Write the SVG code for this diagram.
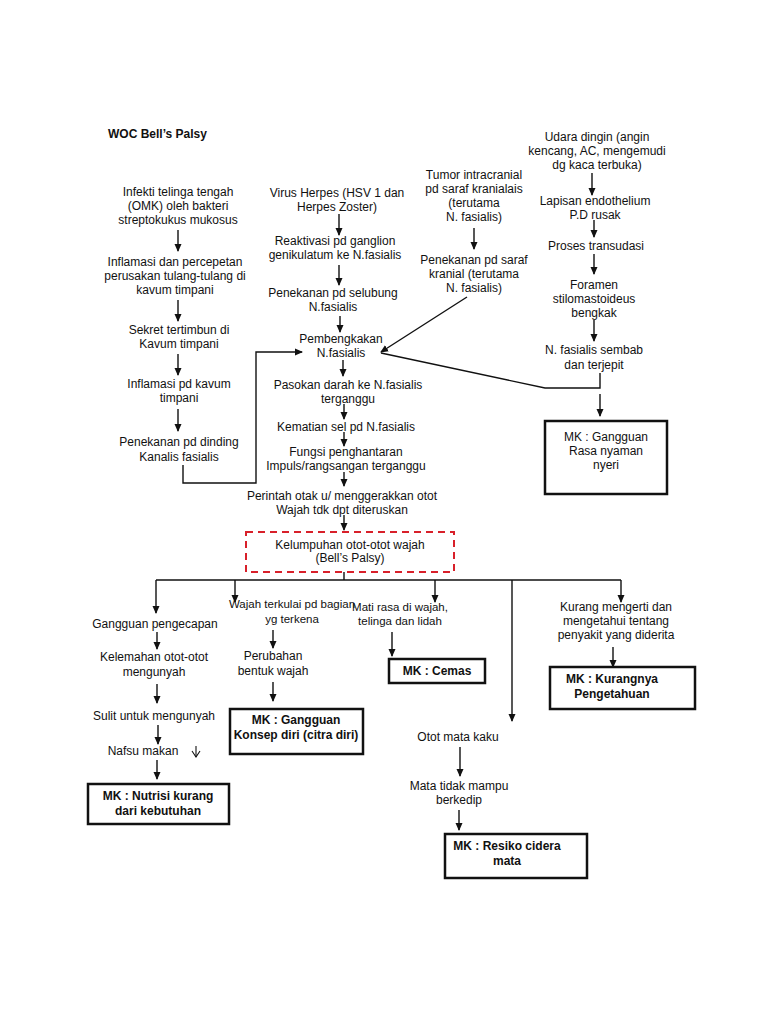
<svg xmlns="http://www.w3.org/2000/svg" width="768" height="1024" viewBox="0 0 768 1024">
<style>
text{font-family:"Liberation Sans",Arial,sans-serif;font-size:12px;fill:#111;text-anchor:middle}
.b{font-weight:bold}
.s{font-size:11.5px}
.c line,.c polyline{stroke:#111;stroke-width:1.4;fill:none}
.a{marker-end:url(#ah)}
.box{fill:#fff;stroke:#111;stroke-width:2.5}
</style>
<defs><marker id="ah" markerWidth="8" markerHeight="8" refX="7" refY="4" orient="auto" markerUnits="userSpaceOnUse"><path d="M0,0.5L8,4L0,7.5z" fill="#111"/></marker></defs>
<rect width="768" height="1024" fill="#fff"/>
<text x="108" y="138" class="b" style="text-anchor:start">WOC Bell’s Palsy</text>
<g id="connectors" class="c">
<line class="a" x1="178" y1="230" x2="178" y2="251"/>
<line class="a" x1="178" y1="300" x2="178" y2="321"/>
<line class="a" x1="178" y1="354" x2="178" y2="375"/>
<line class="a" x1="178" y1="409" x2="178" y2="431"/>
<polyline class="a" points="183,465 183,483 256,483 256,352 302,352"/>
<line class="a" x1="339" y1="214" x2="339" y2="235"/>
<line class="a" x1="339" y1="265" x2="339" y2="285"/>
<line class="a" x1="340" y1="316" x2="340" y2="332"/>
<line class="a" x1="343" y1="360" x2="343" y2="376"/>
<line class="a" x1="344" y1="404" x2="344" y2="419"/>
<line class="a" x1="344" y1="432" x2="344" y2="446"/>
<line class="a" x1="344" y1="472" x2="344" y2="486"/>
<line class="a" x1="344" y1="515" x2="344" y2="530"/>
<line class="a" x1="474" y1="228" x2="474" y2="249"/>
<line class="a" x1="467" y1="297" x2="381" y2="352"/>
<polyline points="600,373 600,388 545,388 381,353"/>
<line class="a" x1="592" y1="173" x2="592" y2="195"/>
<line class="a" x1="594" y1="220" x2="594" y2="237"/>
<line class="a" x1="594" y1="254" x2="594" y2="274"/>
<line class="a" x1="594" y1="320" x2="594" y2="341"/>
<line class="a" x1="600" y1="394" x2="600" y2="416"/>
<line x1="344" y1="572" x2="344" y2="580"/>
<line x1="156" y1="580" x2="621" y2="580"/>
<line class="a" x1="156" y1="580" x2="156" y2="613"/>
<line class="a" x1="235" y1="580" x2="235" y2="602"/>
<line class="a" x1="435" y1="580" x2="435" y2="602"/>
<line class="a" x1="512" y1="580" x2="512" y2="721"/>
<line class="a" x1="621" y1="580" x2="621" y2="602"/>
<line class="a" x1="157" y1="632" x2="157" y2="649"/>
<line class="a" x1="157" y1="684" x2="157" y2="703"/>
<line class="a" x1="158" y1="725" x2="158" y2="744"/>
<line class="a" x1="157" y1="760" x2="157" y2="779"/>
<line class="a" x1="273" y1="630" x2="273" y2="648"/>
<line class="a" x1="273" y1="682" x2="273" y2="701"/>
<line class="a" x1="392" y1="632" x2="392" y2="656"/>
<line class="a" x1="613" y1="647" x2="613" y2="667"/>
<line class="a" x1="460" y1="747" x2="460" y2="776"/>
<line class="a" x1="459" y1="810" x2="459" y2="830"/>
<polyline points="192,751 196,757 200,751" style="stroke-width:1.1"/>
<line x1="196" y1="746" x2="196" y2="757" style="stroke-width:1.1"/>
</g>
<g id="n1"><text x="178" y="196">Infekti telinga tengah</text><text x="178" y="210">(OMK) oleh bakteri</text><text x="178" y="224">streptokukus mukosus</text></g>
<g id="n2"><text x="175" y="266">Inflamasi dan percepetan</text><text x="175" y="280">perusakan tulang-tulang di</text><text x="175" y="294">kavum timpani</text></g>
<g id="n3"><text x="179" y="334">Sekret tertimbun di</text><text x="179" y="348">Kavum timpani</text></g>
<g id="n4"><text x="179" y="388">Inflamasi pd kavum</text><text x="179" y="402">timpani</text></g>
<g id="n5"><text x="179" y="446">Penekanan pd dinding</text><text x="179" y="461">Kanalis fasialis</text></g>
<g id="n6"><text x="337" y="197">Virus Herpes (HSV 1 dan</text><text x="337" y="211">Herpes Zoster)</text></g>
<g id="n7"><text x="335" y="245">Reaktivasi pd ganglion</text><text x="335" y="259">genikulatum ke N.fasialis</text></g>
<g id="n8"><text x="333" y="297">Penekanan pd selubung</text><text x="333" y="311">N.fasialis</text></g>
<g id="n9"><text x="341" y="343">Pembengkakan</text><text x="341" y="357">N.fasialis</text></g>
<g id="n10"><text x="348" y="389">Pasokan darah ke N.fasialis</text><text x="348" y="403">terganggu</text></g>
<g id="n11"><text x="346" y="431">Kematian sel pd N.fasialis</text></g>
<g id="n12"><text x="346" y="456">Fungsi penghantaran</text><text x="346" y="470">Impuls/rangsangan terganggu</text></g>
<g id="n13"><text x="342" y="500">Perintah otak u/ menggerakkan otot</text><text x="342" y="514">Wajah tdk dpt diteruskan</text></g>
<g id="n14"><rect x="246" y="532" width="208" height="40" fill="none" stroke="#d8202a" stroke-width="2" stroke-dasharray="7,5"/><text x="350" y="549">Kelumpuhan otot-otot wajah</text><text x="350" y="562">(Bell’s Palsy)</text></g>
<g id="n15"><text x="474" y="179">Tumor intracranial</text><text x="474" y="193">pd saraf kranialais</text><text x="474" y="207">(terutama</text><text x="474" y="221">N. fasialis)</text></g>
<g id="n16"><text x="474" y="264">Penekanan pd saraf</text><text x="474" y="278">kranial (terutama</text><text x="474" y="292">N. fasialis)</text></g>
<g id="n17"><text x="597" y="141">Udara dingin (angin</text><text x="597" y="155">kencang, AC, mengemudi</text><text x="597" y="169">dg kaca terbuka)</text></g>
<g id="n18"><text x="595" y="205">Lapisan endothelium</text><text x="595" y="219">P.D rusak</text></g>
<g id="n19"><text x="596" y="250">Proses transudasi</text></g>
<g id="n20"><text x="594" y="289">Foramen</text><text x="594" y="303">stilomastoideus</text><text x="594" y="317">bengkak</text></g>
<g id="n21"><text x="594" y="354">N. fasialis sembab</text><text x="594" y="369">dan terjepit</text></g>
<g id="n22"><rect class="box" x="545" y="421" width="122" height="73"/><text x="606" y="441">MK : Gangguan</text><text x="606" y="455">Rasa nyaman</text><text x="606" y="469">nyeri</text></g>
<g id="n23"><text x="155" y="628">Gangguan pengecapan</text></g>
<g id="n24"><text x="154" y="661">Kelemahan otot-otot</text><text x="154" y="676">mengunyah</text></g>
<g id="n25"><text x="154" y="720">Sulit untuk mengunyah</text></g>
<g id="n26"><text x="143" y="755">Nafsu makan</text></g>
<g id="n27"><rect class="box" x="88" y="784" width="141" height="40"/><text x="158" y="800" class="b">MK : Nutrisi kurang</text><text x="158" y="815" class="b">dari kebutuhan</text></g>
<g id="n28"><text x="292" y="608" class="s">Wajah terkulai pd bagian</text><text x="292" y="623" class="s">yg terkena</text></g>
<g id="n29"><text x="273" y="660">Perubahan</text><text x="273" y="675">bentuk wajah</text></g>
<g id="n30"><rect class="box" x="230" y="709" width="133" height="45"/><text x="296" y="724" class="b">MK : Gangguan</text><text x="296" y="739" class="b">Konsep diri (citra diri)</text></g>
<g id="n31"><text x="400" y="611" class="s">Mati rasa di wajah,</text><text x="400" y="625" class="s">telinga dan lidah</text></g>
<g id="n32"><rect class="box" x="389" y="659" width="96" height="24"/><text x="437" y="675" class="b">MK : Cemas</text></g>
<g id="n33"><text x="616" y="611">Kurang mengerti dan</text><text x="616" y="625">mengetahui tentang</text><text x="616" y="639">penyakit yang diderita</text></g>
<g id="n34"><rect class="box" x="550" y="667" width="145" height="42"/><text x="612" y="683" class="b">MK : Kurangnya</text><text x="612" y="698" class="b">Pengetahuan</text></g>
<g id="n35"><text x="458" y="741">Otot mata kaku</text></g>
<g id="n36"><text x="459" y="790">Mata tidak mampu</text><text x="459" y="804">berkedip</text></g>
<g id="n37"><rect class="box" x="445" y="834" width="142" height="44"/><text x="507" y="850" class="b">MK : Resiko cidera</text><text x="507" y="865" class="b">mata</text></g>
</svg>
